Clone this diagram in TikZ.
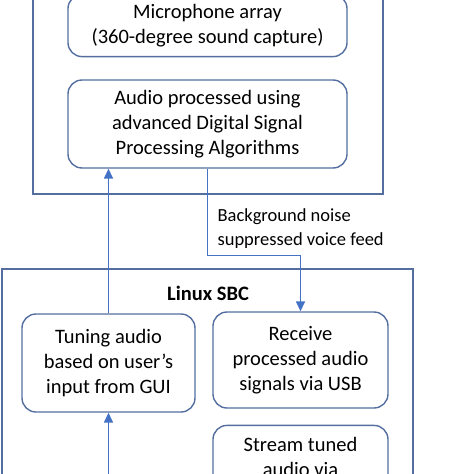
\documentclass[tikz,border=0pt]{standalone}
\usepackage{fontspec}
\setmainfont{Carlito}
\usepackage{tikz}
\usetikzlibrary{arrows.meta,positioning}
\definecolor{boxblue}{RGB}{84,110,160}
\definecolor{lineblue}{RGB}{68,114,196}
\tikzset{
  box/.style={rectangle,rounded corners=14pt,draw=boxblue,line width=1.4pt,fill=white,
              text=black,align=center,inner sep=4pt,font=\fontsize{20.5}{24.8}\selectfont},
  grp/.style={rectangle,draw=boxblue,line width=1.4pt},
  fl/.style={-{Triangle[length=10pt,width=9pt]},draw=lineblue,line width=1.5pt},
  lbl/.style={align=left,font=\fontsize{18.5}{23.5}\selectfont},
}

\begin{document}
\begin{tikzpicture}[x=1pt,y=1pt,node distance=16pt]
  \useasboundingbox (0,0) rectangle (474,-474);
  \clip (0,0) rectangle (474,-474);
  % capture board
  \draw[grp] (33,20) rectangle (383,-194);
  \node[box,minimum width=279pt,minimum height=88pt] (dsp) at (207.5,-124) {Audio processed using\\advanced Digital Signal\\Processing Algorithms};
  \node[box,minimum width=279pt,minimum height=62pt,above=22pt of dsp] (mic) {Microphone array\\(360-degree sound capture)};
  % linux board
  \draw[grp] (2,-269) rectangle (413,-520);
  \node[font=\bfseries\fontsize{20.5}{24}\selectfont] (sbc) at (208,-293) {Linux SBC};
  \node[box,minimum width=173pt,minimum height=98pt] (tune) at (108.5,-363) {Tuning audio\\based on user’s\\input from GUI};
  \node[box,minimum width=175pt,minimum height=96pt] (recv) at (300.5,-360) {Receive\\processed audio\\signals via USB};
  \node[box,minimum width=175pt,minimum height=88pt,below=16pt of recv] (strm) {Stream tuned\\audio via\\\mbox{}};
  \coordinate (gui) at (108.5,-520);
  \draw[fl] (gui) -- (tune.south);
  \draw[fl] (tune.north) -- (tune.north |- dsp.south);
  \draw[fl] (dsp.south) -- node[lbl,right,pos=0.69,xshift=6pt]{Background noise\\suppressed voice feed} ++(0,-87) -| (recv.north);
\end{tikzpicture}
\end{document}
